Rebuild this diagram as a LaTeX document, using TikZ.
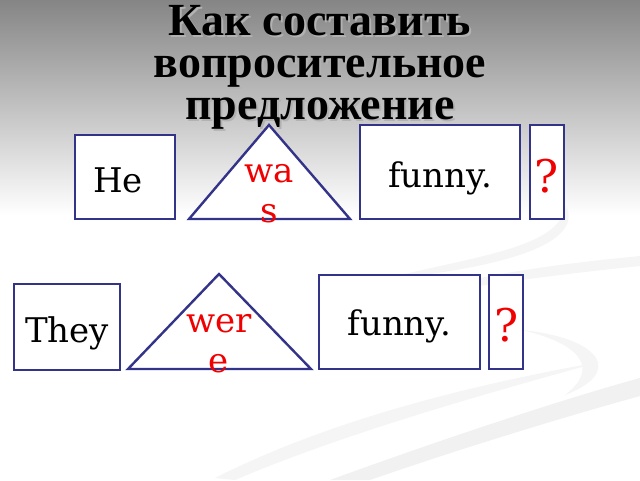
\documentclass[tikz,border=0pt]{standalone}
\usepackage{fontspec}
\setmainfont{Liberation Serif}
\newfontfamily\boxfont{DejaVu Serif}
\definecolor{framec}{HTML}{33338A}
\definecolor{wordred}{HTML}{F00000}
\definecolor{topgrey}{HTML}{858585}
\begin{document}
\begin{tikzpicture}[x=1pt,y=-1pt,
  wordbox/.style={draw=framec,line width=2.4pt,fill=white,inner sep=0pt},
  tri/.style={draw=framec,line width=2.4pt,fill=white,line join=miter},
  wordtxt/.style={font=\boxfont\fontsize{34}{40}\selectfont,text=black,anchor=base,inner sep=0pt},
  redtxt/.style={wordtxt,text=wordred},
  qtxt/.style={wordtxt,text=wordred,font=\boxfont\fontsize{45}{50}\selectfont},
  titletxt/.style={font=\bfseries\fontsize{46}{42}\selectfont,align=center,inner sep=0pt},
  swoosh/.style={fill=gray!8,draw=none}]
% background
\path[use as bounding box] (0,0) rectangle (640,480);
\fill[white] (0,0) rectangle (640,480);
\shade[top color=topgrey,bottom color=white] (0,0) rectangle (640,215);
% decorative swooshes
\fill[swoosh] (380,280) .. controls (480,255) and (560,248) .. (566,205) .. controls (585,245) and (500,268) .. (380,280) -- cycle;
\fill[swoosh] (395,300) .. controls (480,272) and (580,262) .. (640,256) -- (640,266) .. controls (580,272) and (480,284) .. (395,300) -- cycle;
\fill[swoosh] (522,330) .. controls (600,338) and (625,372) .. (565,395) .. controls (598,370) and (585,345) .. (522,330) -- cycle;
\fill[swoosh] (215,478) .. controls (330,420) and (470,385) .. (600,362) .. controls (480,395) and (340,435) .. (235,480) -- cycle;
\fill[gray!11] (330,480) .. controls (440,440) and (560,400) .. (640,378) -- (640,396) .. controls (560,418) and (450,452) .. (370,480) -- cycle;
% title
\node[titletxt,text=black!30] (titleshadow) at (322,69) {Как составить\\вопросительное\\предложение};
\node[titletxt,text=black] (title) at (320,67) {Как составить\\вопросительное\\предложение};
% row 1
\node[wordbox,minimum width=100pt,minimum height=84pt] (he) at (125,177) {};
\node[wordbox,minimum width=160pt,minimum height=94pt] (funnyA) at (440,172) {};
\node[wordbox,minimum width=34pt,minimum height=94pt] (qA) at (547,172) {};
\coordinate (tAtop) at (269,125);
\coordinate (tAleft) at (189,219);
\coordinate (tAright) at (350,219);
\draw[tri] (tAtop) -- (tAright) -- (tAleft) -- cycle;
\node[wordtxt] (heT) at (118,192) {He};
\node[wordtxt] (funnyAT) at (440,187) {funny.};
\node[qtxt] (qAT) at (547,192) {?};
\node[redtxt] (waT) at (269,182) {wa};
\node[redtxt] (sT) at (269,222) {s};
% row 2
\node[wordbox,minimum width=106pt,minimum height=86pt] (they) at (67,327) {};
\node[wordbox,minimum width=161pt,minimum height=94pt] (funnyB) at (399.5,322) {};
\node[wordbox,minimum width=34pt,minimum height=94pt] (qB) at (506,322) {};
\coordinate (tBtop) at (219,274);
\coordinate (tBleft) at (128,369);
\coordinate (tBright) at (311,369);
\draw[tri] (tBtop) -- (tBright) -- (tBleft) -- cycle;
\node[wordtxt] (theyT) at (67,342) {They};
\node[wordtxt] (funnyBT) at (399.5,335) {funny.};
\node[qtxt] (qBT) at (507,341) {?};
\node[redtxt] (werT) at (219,332) {wer};
\node[redtxt] (eT) at (219,372) {e};
\end{tikzpicture}
\end{document}
